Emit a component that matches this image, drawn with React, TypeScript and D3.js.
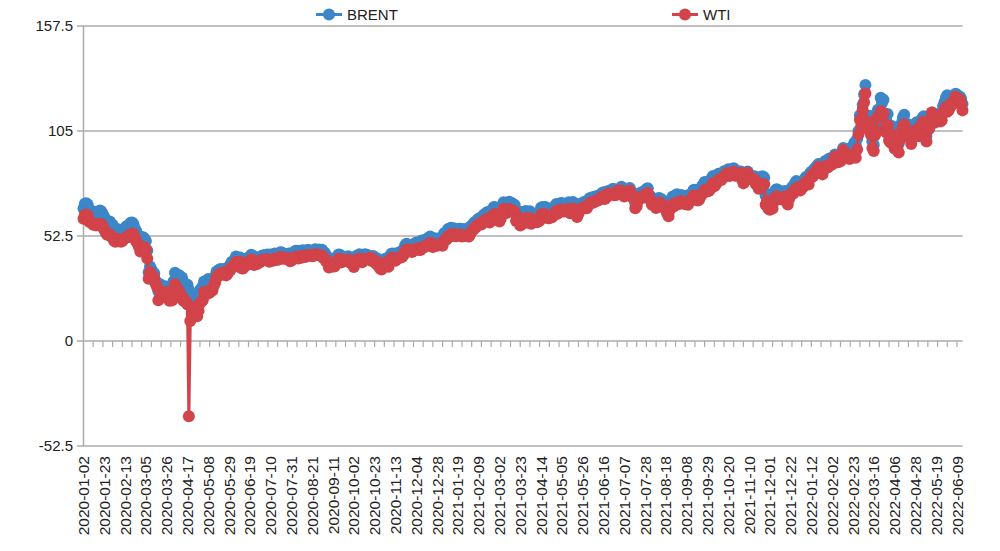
import React from 'react';
import * as d3 from 'd3';

// ---- Data (daily closes) ----
const brent2020 = [
  66.25, 68.6, 68.91, 68.27, 65.44, 65.37, 64.98, 64.2, 64.49, 64.0, 64.62, 64.85, 65.2, 64.59, 63.21, 62.04, 60.69, 59.32, 59.51, 59.81, 58.29, 58.16,
  54.45, 53.96, 55.28, 55.93, 54.47, 53.27, 54.01, 55.79, 56.34, 57.32, 57.67, 57.75, 59.12, 59.31, 58.5, 56.3, 54.95, 53.43, 52.18, 50.52,
  51.9, 51.86, 51.13, 49.99, 45.27, 34.36, 37.22, 35.79, 33.22, 33.85, 30.05, 28.73, 24.88, 28.47, 26.98, 27.03, 27.15, 27.39, 26.34, 24.93, 22.76, 22.74,
  24.74, 29.94, 34.11, 33.05, 31.87, 32.84, 31.48, 31.74, 29.6, 27.69, 27.82, 28.08, 25.57, 19.33, 20.37, 21.33, 21.44, 19.99, 20.46, 22.54, 25.27,
  26.44, 27.2, 29.72, 29.72, 29.46, 30.97, 29.63, 29.98, 29.19, 31.13, 32.5, 34.81, 34.65, 35.75, 36.06, 35.13, 35.53, 36.17, 35.07, 35.29, 35.33,
  38.32, 39.57, 39.79, 39.99, 42.3, 40.8, 41.18, 41.73, 38.55, 38.73, 39.72, 40.96, 40.71, 41.51, 42.19, 43.08, 42.63, 40.31, 41.05, 41.02, 41.71, 41.15,
  42.03, 42.8, 42.8, 42.9, 43.08, 43.29, 42.35, 43.24, 42.72, 42.9, 43.79, 43.37, 43.14, 43.28, 44.32, 44.29, 43.31, 43.34, 43.41, 43.22, 43.75, 43.3, 43.3,
  44.15, 44.43, 45.17, 45.09, 44.4, 44.99, 44.5, 45.43, 44.96, 44.8, 45.37, 45.46, 45.37, 44.9, 44.35, 45.13, 45.86, 45.64, 45.09, 45.81, 45.28,
  45.58, 44.43, 44.07, 42.66, 42.01, 39.78, 40.79, 40.06, 39.83, 39.61, 40.53, 42.22, 43.3, 43.15, 41.44, 41.72, 41.77, 41.94, 41.92, 42.43, 40.6, 40.95,
  40.93, 39.27, 41.29, 42.65, 41.99, 43.34, 42.85, 41.72, 42.45, 43.32, 43.16, 42.93, 42.62, 42.16, 41.73, 42.46, 41.77, 40.46, 41.2, 39.12, 37.65, 37.46,
  39.71, 40.71, 41.23, 40.93, 39.45, 42.4, 43.61, 43.8, 43.53, 42.78, 43.82, 43.75, 44.34, 44.2, 44.96, 46.06, 47.86, 48.61, 47.8, 48.18, 47.59,
  47.42, 48.25, 48.71, 49.25, 48.79, 48.84, 48.86, 50.25, 49.97, 50.29, 50.76, 51.08, 51.5, 52.26, 50.91, 50.08, 51.2, 51.29, 50.86, 51.09, 51.34, 51.8,
];
const brent2021 = [
  51.09, 53.6, 54.3, 54.38, 55.99, 55.66, 56.58, 56.06, 56.42, 55.1, 54.75, 55.9, 56.08, 56.1, 55.41, 55.88, 55.91, 55.81, 55.53, 55.88,
  57.15, 57.46, 58.46, 59.34, 59.34, 60.56, 61.09, 61.47, 61.14, 62.43, 63.3, 63.35, 64.34, 63.93, 62.91, 65.24, 65.37, 67.04, 66.88, 66.13,
  63.69, 62.7, 64.07, 66.74, 69.36, 68.24, 67.52, 67.9, 69.63, 69.22, 68.88, 68.39, 68.0, 63.28, 64.53, 64.62, 60.79, 64.41, 61.95, 64.57, 64.98, 64.14, 63.54,
  64.86, 62.15, 62.74, 63.16, 63.2, 62.95, 63.28, 63.67, 66.58, 66.94, 66.77, 67.05, 66.57, 65.32, 65.4, 66.11, 65.65, 66.42, 67.27, 68.56, 67.25,
  67.56, 68.88, 68.96, 68.09, 68.28, 68.32, 68.55, 69.32, 67.05, 68.71, 69.46, 68.71, 66.66, 65.11, 66.44, 68.46, 68.65, 68.87, 69.46, 69.63, 69.32,
  70.25, 71.35, 71.31, 71.89, 71.49, 72.22, 72.22, 72.52, 72.69, 72.86, 73.99, 74.39, 73.08, 73.51, 74.9, 74.81, 75.19, 75.56, 76.18, 74.68, 74.76, 75.13,
  75.84, 76.17, 77.16, 74.53, 73.43, 74.12, 75.55, 75.16, 76.49, 74.76, 73.47, 73.59, 68.62, 69.35, 72.23, 73.79, 74.1, 74.5, 74.48, 74.74, 76.05, 76.33,
  72.89, 72.41, 70.38, 71.29, 70.7, 69.04, 70.63, 71.44, 71.31, 70.59, 69.51, 69.03, 68.23, 66.45, 65.18, 68.75, 71.05, 72.25, 71.07, 72.7, 73.41, 71.63,
  71.59, 73.03, 72.61, 72.22, 71.69, 72.6, 71.45, 72.92, 73.51, 73.6, 75.46, 75.67, 75.34, 74.92, 74.36, 76.19, 77.25, 78.09, 79.53, 79.09, 78.64, 78.31,
  79.28, 81.26, 82.56, 81.08, 81.95, 82.39, 83.65, 83.42, 83.18, 84.0, 84.86, 84.33, 85.08, 85.82, 84.61, 85.53, 85.99, 86.4, 84.58, 84.32, 84.38,
  84.71, 84.72, 81.99, 80.54, 82.74, 83.43, 84.78, 82.64, 82.87, 82.17, 82.05, 82.43, 80.28, 81.24, 78.89, 79.7, 82.31, 82.25, 81.6, 72.72, 73.44, 70.57,
  68.87, 69.67, 69.88, 73.08, 75.44, 75.82, 75.42, 75.15, 74.39, 73.7, 73.88, 75.02, 73.52, 71.52, 73.98, 75.29, 76.85, 76.14, 78.6, 79.94, 79.23, 79.32, 77.78,
];
const brent2022 = [
  78.98, 80.0, 80.8, 81.99, 81.75, 80.87, 83.72, 84.67, 84.47, 86.06, 86.48, 87.51, 88.44, 88.38, 87.89, 86.27, 88.2, 89.96, 89.34, 90.03, 91.21,
  89.16, 89.47, 91.11, 93.27, 92.69, 90.78, 91.55, 91.41, 94.44, 96.48, 93.28, 94.81, 92.97, 93.54, 95.39, 96.84, 96.84, 99.08, 97.93, 100.99,
  104.97, 112.93, 110.46, 118.11, 123.21, 127.98, 111.14, 109.33, 112.67, 106.9, 99.91, 98.02, 106.64, 107.93, 115.62, 115.48, 121.6, 119.03, 120.65, 112.48, 110.23, 113.45, 107.91,
  104.39, 107.53, 106.64, 101.07, 100.58, 102.78, 98.48, 104.64, 108.78, 111.7, 113.16, 107.25, 106.8, 108.33, 106.65, 102.32, 104.99, 105.32, 107.59, 109.34,
  107.58, 104.97, 110.14, 111.55, 112.39, 105.94, 102.46, 107.51, 107.45, 111.55, 114.24, 111.93, 109.11, 112.04, 112.55, 113.42, 113.56, 114.03, 117.4, 119.43, 121.67, 122.84,
  116.29, 117.61, 119.72, 119.51, 120.57, 123.58, 123.07, 122.01, 122.27, 121.17, 118.51,
];

const wti2020 = [
  61.18, 63.05, 63.27, 62.7, 59.61, 59.56, 59.04, 58.08, 58.23, 57.81, 58.52, 58.54, 58.54, 58.38, 56.74, 55.59, 54.19, 53.14, 53.48, 53.33, 52.14, 51.56,
  50.11, 49.61, 50.75, 50.95, 50.32, 49.57, 49.94, 51.17, 51.42, 52.05, 52.05, 52.05, 53.29, 53.78, 53.38, 51.43, 49.9, 48.73, 47.09, 44.76,
  46.75, 47.18, 46.78, 45.9, 41.28, 31.13, 34.36, 32.98, 31.5, 31.73, 28.7, 26.95, 20.37, 25.22, 22.43, 23.36, 24.01, 24.49, 22.6, 21.51, 20.09, 20.48,
  20.31, 25.32, 28.34, 26.08, 23.63, 25.09, 22.76, 22.41, 20.11, 19.87, 19.87, 18.27, -37.63, 10.01, 13.78, 16.5, 16.94, 12.78, 12.34, 15.06, 18.84,
  19.78, 20.39, 24.56, 23.99, 23.55, 24.74, 24.14, 25.78, 25.29, 27.56, 29.43, 31.82, 32.5, 33.49, 33.92, 33.25, 33.25, 34.35, 32.81, 33.71, 35.49,
  35.44, 36.81, 37.29, 37.41, 39.55, 38.19, 38.94, 39.6, 36.34, 36.26, 37.12, 38.38, 37.96, 38.84, 39.75, 40.73, 40.37, 38.01, 38.72, 38.49, 39.7, 39.27,
  39.82, 40.65, 40.65, 40.63, 40.62, 40.9, 39.62, 40.55, 40.1, 40.29, 41.2, 40.75, 40.59, 40.81, 41.96, 41.9, 41.07, 41.29, 41.6, 41.04, 41.27, 39.92, 40.27,
  41.01, 41.7, 42.19, 41.95, 41.22, 41.94, 41.61, 42.67, 42.24, 42.01, 42.89, 42.89, 42.93, 42.82, 42.34, 42.62, 43.35, 43.39, 43.04, 42.97, 42.61,
  42.76, 41.51, 41.37, 39.77, 39.77, 36.76, 38.05, 37.3, 37.33, 37.26, 38.28, 40.16, 40.97, 41.11, 39.31, 39.8, 39.93, 40.31, 40.25, 40.6, 39.29, 40.22,
  38.72, 37.05, 39.22, 40.67, 39.95, 41.19, 40.6, 39.43, 40.2, 41.04, 40.96, 40.88, 41.06, 41.7, 40.03, 40.64, 39.85, 38.56, 39.57, 37.39, 36.17, 35.79,
  36.81, 37.66, 39.15, 38.79, 37.14, 40.29, 41.36, 41.45, 41.12, 40.13, 41.34, 41.43, 41.82, 41.74, 42.15, 43.06, 44.91, 45.71, 45.71, 45.53, 45.34,
  44.55, 45.28, 45.64, 46.26, 45.76, 45.6, 45.52, 46.78, 46.57, 46.99, 47.62, 47.82, 48.36, 49.1, 47.74, 47.02, 48.12, 48.23, 47.62, 48.0, 48.4, 48.52,
];
const wti2021 = [
  47.62, 49.93, 50.63, 50.83, 52.24, 52.25, 53.21, 52.91, 53.57, 52.36, 52.36, 52.98, 53.24, 53.13, 52.27, 52.77, 52.61, 52.85, 52.34, 52.2,
  53.55, 54.76, 55.69, 56.23, 56.85, 57.97, 58.36, 58.68, 58.24, 59.47, 60.1, 60.05, 61.14, 60.52, 59.24, 61.49, 61.67, 63.22, 63.53, 61.5,
  60.64, 59.75, 61.28, 63.83, 66.09, 65.05, 64.01, 64.44, 66.02, 65.61, 65.39, 64.8, 64.6, 60.0, 61.42, 61.55, 57.76, 61.18, 58.56, 60.97, 61.56, 60.55, 59.16,
  61.45, 58.65, 59.33, 59.77, 59.6, 59.32, 59.7, 60.18, 63.15, 63.46, 63.13, 63.38, 62.44, 61.35, 61.43, 62.14, 61.91, 62.94, 63.86, 65.01, 63.58,
  64.49, 65.69, 65.63, 64.71, 64.9, 65.16, 65.28, 66.08, 63.82, 65.37, 66.27, 65.49, 63.36, 62.05, 63.58, 66.05, 66.07, 66.21, 66.85, 66.32, 66.32,
  67.72, 68.83, 68.81, 69.62, 69.23, 70.05, 69.96, 70.29, 70.91, 70.88, 72.12, 72.15, 71.04, 71.64, 73.66, 73.06, 73.08, 73.3, 74.05, 72.91, 72.98, 73.47,
  75.23, 75.16, 75.16, 73.37, 72.2, 72.94, 74.56, 74.1, 75.25, 73.13, 71.65, 71.81, 66.42, 67.42, 70.3, 71.91, 72.07, 71.91, 71.65, 72.39, 73.62, 73.95,
  71.26, 70.56, 68.15, 69.09, 68.28, 66.48, 68.29, 69.25, 69.09, 68.44, 67.29, 66.59, 65.46, 63.69, 62.32, 65.64, 67.54, 68.36, 67.42, 68.74, 69.21, 68.5,
  68.59, 69.99, 69.29, 69.29, 68.35, 69.3, 68.14, 69.72, 70.45, 70.46, 72.61, 72.61, 71.97, 70.29, 70.56, 72.23, 73.3, 73.98, 75.45, 75.29, 74.83, 75.03,
  75.88, 77.62, 78.93, 77.43, 78.3, 79.35, 80.52, 80.64, 80.44, 81.31, 82.28, 82.44, 83.87, 83.87, 82.5, 83.76, 83.76, 84.65, 82.66, 82.81, 83.57,
  84.05, 83.91, 80.86, 78.81, 81.27, 81.93, 84.15, 81.34, 81.59, 80.79, 80.88, 80.76, 78.36, 79.01, 76.1, 76.75, 78.5, 78.39, 78.39, 68.15, 69.95, 66.18,
  65.57, 66.5, 66.26, 69.49, 72.05, 72.36, 70.94, 71.67, 71.29, 70.73, 70.87, 72.38, 70.86, 68.23, 71.12, 72.76, 73.79, 73.79, 75.57, 75.98, 76.56, 76.99, 75.21,
];
const wti2022 = [
  76.08, 76.99, 77.85, 79.46, 78.9, 78.23, 81.22, 82.64, 82.12, 83.82, 83.82, 85.43, 86.96, 86.9, 85.14, 83.31, 85.6, 87.35, 86.61, 86.82, 88.15,
  88.2, 88.26, 90.27, 92.31, 91.32, 89.36, 89.66, 89.88, 93.1, 95.46, 92.07, 93.66, 91.76, 91.07, 91.07, 92.35, 92.1, 92.81, 91.59, 95.72,
  103.41, 110.6, 107.67, 115.68, 119.4, 123.7, 108.7, 106.02, 109.33, 103.01, 96.44, 95.04, 102.98, 104.7, 112.12, 111.76, 114.93, 112.34, 113.9, 105.96, 104.24, 107.82, 100.28,
  99.27, 103.28, 101.96, 96.23, 96.03, 98.26, 94.29, 100.6, 104.25, 106.95, 108.21, 102.56, 102.75, 103.79, 102.07, 98.54, 101.7, 102.02, 105.36, 104.69,
  105.17, 102.41, 107.81, 108.26, 109.77, 103.09, 99.76, 105.71, 106.13, 110.49, 114.2, 112.4, 109.59, 112.21, 110.28, 110.29, 109.77, 110.33, 114.09, 115.07, 117.0, 114.67,
  115.26, 116.87, 118.87, 118.5, 119.41, 122.11, 121.51, 120.67, 120.93, 118.93, 115.31,
];

const seriesNames = ['BRENT', 'WTI'];
const seriesColors = ['#3d86c7', '#d2434a'];
const yTickValues = [-52.5, 0, 52.5, 105, 157.5];
const firstDate = '2020-01-02';
const lastDate = '2022-06-15';
const closedDays = ['2020-04-10', '2020-12-25', '2021-01-01', '2021-04-02', '2022-04-15'];
const labelEvery = 15;
const tickEvery = 7;

// trading-day categories
function buildDates(): string[] {
  const out: string[] = [];
  const fmt = d3.utcFormat('%Y-%m-%d');
  const days = d3.utcDays(new Date(firstDate + 'T00:00:00Z'), new Date(lastDate + 'T00:00:01Z'));
  for (const d of days) {
    const wd = d.getUTCDay();
    const s = fmt(d);
    if (wd === 0 || wd === 6) continue;
    if (closedDays.includes(s)) continue;
    out.push(s);
  }
  return out;
}

const dates = buildDates();
const brent = [...brent2020, ...brent2021, ...brent2022];
const wti = [...wti2020, ...wti2021, ...wti2022];
const series = [brent, wti];

const W = 1000;
const H = 551;
const left = 83.5;
const right = 962.5;
const top = 26;
const bottom = 446;
const FONT = '"Liberation Sans", Arial, Helvetica, sans-serif';

export default function App() {
  const n = Math.min(dates.length, brent.length, wti.length);
  const cats = dates.slice(0, n);
  const x = d3.scalePoint<string>().domain(cats).range([left, right]);
  const y = d3.scaleLinear().domain([-52.5, 157.5]).range([bottom, top]);
  const line = d3
    .line<number>()
    .x((_, i) => x(cats[i]) as number)
    .y((d) => y(d));

  const gridColor = '#ababab';
  const textColor = '#222';

  return (
    <svg
      width={W}
      height={H}
      style={{ position: 'absolute', left: 0, top: 0, background: '#fff' }}
      fontFamily={FONT}
    >
      {/* horizontal grid lines */}
      {yTickValues.map((v) => (
        <line key={'g' + v} x1={77} x2={right} y1={y(v)} y2={y(v)} stroke={gridColor} strokeWidth={1.3} />
      ))}
      {/* y axis */}
      <line x1={left} x2={left} y1={top} y2={bottom} stroke={gridColor} strokeWidth={1.5} />
      {yTickValues.map((v) => (
        <text
          key={'yl' + v}
          x={73}
          y={y(v)}
          dy="0.35em"
          textAnchor="end"
          fontSize={15}
          fill={textColor}
        >
          {v}
        </text>
      ))}
      {/* x ticks on the zero line */}
      {cats.map((c, i) =>
        i > 0 && i % tickEvery === 0 ? (
          <line key={'t' + c} x1={x(c)} x2={x(c)} y1={y(0)} y2={y(0) + 6} stroke={gridColor} strokeWidth={1.2} />
        ) : null
      )}
      {/* x labels */}
      {cats.map((c, i) =>
        i % labelEvery === 0 ? (
          <text
            key={'xl' + c}
            transform={`translate(${x(c)},456) rotate(-90)`}
            dy="0.36em"
            textAnchor="end"
            fontSize={15.5}
            fill={textColor}
          >
            {c}
          </text>
        ) : null
      )}
      {/* series */}
      {series.map((vals, si) => (
        <g key={'s' + si}>
          <path d={line(vals.slice(0, n)) || ''} fill="none" stroke={seriesColors[si]} strokeWidth={3} />
          {vals.slice(0, n).map((v, i) => (
            <circle key={i} cx={x(cats[i])} cy={y(v)} r={6} fill={seriesColors[si]} />
          ))}
        </g>
      ))}
      {/* legend */}
      {seriesNames.map((name, si) => {
        const lx = si === 0 ? 316 : 672;
        return (
          <g key={'lg' + name}>
            <line x1={lx} x2={lx + 26} y1={14.5} y2={14.5} stroke={seriesColors[si]} strokeWidth={3} />
            <circle cx={lx + 13} cy={14.5} r={6} fill={seriesColors[si]} />
            <text x={lx + 31} y={14.5} dy="0.35em" fontSize={15} fill={textColor}>
              {name}
            </text>
          </g>
        );
      })}
    </svg>
  );
}
